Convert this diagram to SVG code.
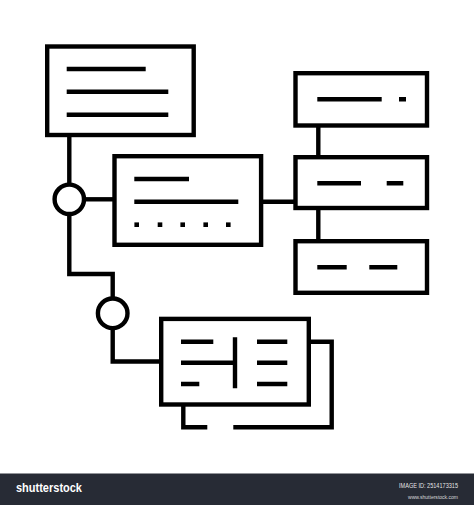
<svg xmlns="http://www.w3.org/2000/svg" width="474" height="505" viewBox="0 0 474 505">
<style>
.s{fill:none;stroke:#000;stroke-width:4.4;stroke-linecap:butt;stroke-linejoin:miter}
.box{fill:#fff;stroke:#000;stroke-width:4.4}
.dot{fill:#000}
.ft{fill:#fff;font-family:"Liberation Sans",Arial,sans-serif}
</style>
<rect width="474" height="505" fill="#fff"/>
<g id="connectors">
<path class="s" d="M69.3 135 V184.5"/>
<path class="s" d="M84 199.3 H114"/>
<path class="s" d="M69.3 214 V274 H112.7 V298.5"/>
<path class="s" d="M112.7 328.3 V361.5 H160"/>
<path class="s" d="M261 201.7 H296"/>
<path class="s" d="M318.3 125 V157"/>
<path class="s" d="M318.3 208 V241"/>
<path class="s" d="M309 341.7 H331.7 V427.3 H233.3"/>
<path class="s" d="M183.3 405 V427.3 H207.3"/>
</g>
<g id="node-top">
<rect class="box" x="47.2" y="46.5" width="146.5" height="88.5"/>
<path class="s" d="M66.7 69 H145.7 M66.7 91.7 H168.3 M66.7 114.7 H168.3"/>
</g>
<g id="circle-1"><circle class="box" cx="69.3" cy="199.3" r="14.7"/></g>
<g id="circle-2"><circle class="box" cx="112.7" cy="313.3" r="14.8"/></g>
<g id="node-middle">
<rect class="box" x="114.5" y="156.2" width="146.6" height="88.6"/>
<path class="s" d="M134.3 179 H189 M134.3 201.7 H238.3"/>
<rect class="dot" x="134.4" y="222.4" width="4.6" height="4.6"/>
<rect class="dot" x="157.7" y="222.4" width="4.6" height="4.6"/>
<rect class="dot" x="180.4" y="222.4" width="4.6" height="4.6"/>
<rect class="dot" x="203.4" y="222.4" width="4.6" height="4.6"/>
<rect class="dot" x="226" y="222.4" width="4.6" height="4.6"/>
</g>
<g id="node-right-1">
<rect class="box" x="295.5" y="73.2" width="131.5" height="52.3"/>
<path class="s" d="M317.3 99.3 H381.7 M399 99.3 H406"/>
</g>
<g id="node-right-2">
<rect class="box" x="295.5" y="157.2" width="131.5" height="50.8"/>
<path class="s" d="M317.3 183.3 H361 M386.7 183.3 H403.3"/>
</g>
<g id="node-right-3">
<rect class="box" x="295.5" y="241.2" width="131.5" height="51.6"/>
<path class="s" d="M317.3 267.3 H346.7 M369.3 267.3 H397.3"/>
</g>
<g id="node-bottom">
<rect class="box" x="161.2" y="318.9" width="147.6" height="85.6"/>
<path class="s" d="M181 341.7 H213.3 M181 362.7 H235 M181 384 H199.3 M235 337.3 V388.3"/>
<path class="s" d="M257 341.7 H287.3 M257 362.7 H287.3 M257 384 H287.3"/>
</g>
<g id="footer">
<rect x="0" y="473.5" width="474" height="31.5" fill="#272b35"/>
<text class="ft" x="16" y="492" font-size="13" font-weight="bold" textLength="66" lengthAdjust="spacingAndGlyphs">shutterstock</text>
<text class="ft" x="399" y="488" font-size="7" textLength="59" lengthAdjust="spacingAndGlyphs" fill-opacity="0.9">IMAGE ID: 2514173315</text>
<text class="ft" x="408" y="498.5" font-size="5.5" textLength="50" lengthAdjust="spacingAndGlyphs" fill-opacity="0.8">www.shutterstock.com</text>
</g>
</svg>
